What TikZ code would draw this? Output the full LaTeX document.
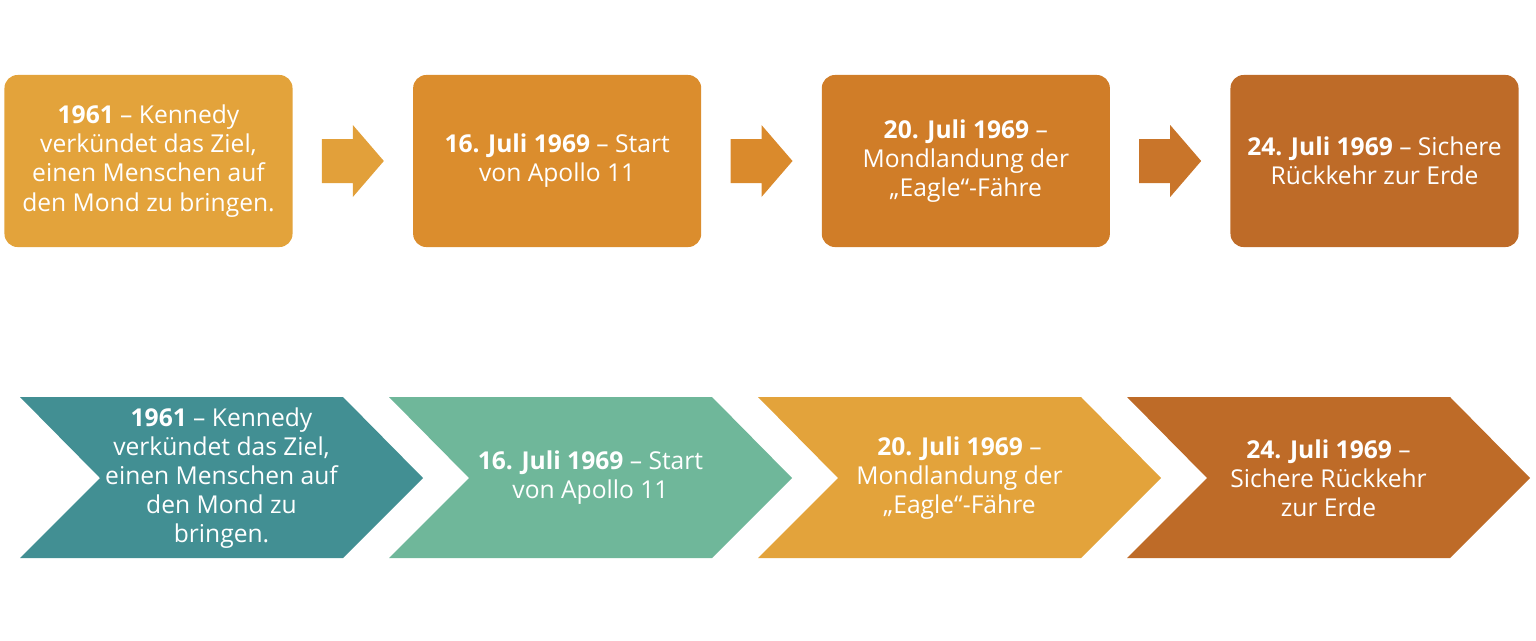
\documentclass[tikz,border=0pt]{standalone}
\usepackage{fontspec}
\setmainfont{Open Sans}
\usetikzlibrary{positioning,calc}
\definecolor{gold1}{HTML}{E3A33B}
\definecolor{gold2}{HTML}{DB8D2D}
\definecolor{gold3}{HTML}{D07D28}
\definecolor{rust}{HTML}{BE6B28}
\definecolor{arrA}{HTML}{E2A03A}
\definecolor{arrB}{HTML}{DA8A2C}
\definecolor{arrC}{HTML}{C9752A}
\definecolor{teal2}{HTML}{428F93}
\definecolor{mint}{HTML}{6FB79A}

\begin{document}
\begin{tikzpicture}[
          x=0.025cm, y=-0.025cm,
          txt/.style={font=\fontsize{17.5}{20.7}\selectfont, text=white, align=center},
          box/.style={txt, rounded corners=0.33cm, minimum width=7.2cm,
                      minimum height=4.3cm, inner sep=0pt},
          node distance=3cm
      ]
        \useasboundingbox (0,0) rectangle (1536,640);

        % upper row
        \node[box, fill=gold1] (b1) at (148.5,161)
          {\textbf{1961} – Kennedy\\verkündet das Ziel,\\einen Menschen auf\\den Mond zu bringen.};
        \node[box, fill=gold2, right=of b1] (b2)
          {\textbf{16. Juli 1969} – Start\\von Apollo 11};
        \node[box, fill=gold3, right=of b2] (b3)
          {\textbf{20. Juli 1969} –\\Mondlandung der\\„Eagle“-Fähre};
        \node[box, fill=rust, right=of b3] (b4)
          {\textbf{24. Juli 1969} – Sichere\\Rückkehr zur Erde};

        \foreach \a/\b/\c in {b1/b2/arrA, b2/b3/arrB, b3/b4/arrC} {
          \coordinate (m) at ($(\a.east)!0.5!(\b.west)$);
          \fill[\c] ($(m)+(-31,-22)$) -- ($(m)+(0,-22)$) -- ($(m)+(0,-36)$)
            -- ($(m)+(31,0)$) -- ($(m)+(0,36)$) -- ($(m)+(0,22)$)
            -- ($(m)+(-31,22)$) -- cycle;
        }

        % lower row
        \foreach \i/\c in {0/teal2, 1/mint, 2/gold1, 3/rust} {
          \pgfmathsetmacro{\L}{20+369*\i}
          \fill[\c] (\L,397) -- (\L+323,397) -- (\L+403,478)
            -- (\L+323,558) -- (\L,558) -- (\L+80,478) -- cycle;
        }
        \node[txt] (c1) at (221.5,478)
          {\textbf{1961} – Kennedy\\verkündet das Ziel,\\einen Menschen auf\\den Mond zu\\bringen.};
        \node[txt] (c2) at (590.5,478)
          {\textbf{16. Juli 1969} – Start\\von Apollo 11};
        \node[txt] (c3) at (959.5,478)
          {\textbf{20. Juli 1969} –\\Mondlandung der\\„Eagle“-Fähre};
        \node[txt] (c4) at (1328.5,478)
          {\textbf{24. Juli 1969} –\\Sichere Rückkehr\\zur Erde};
      \end{tikzpicture}
\end{document}
